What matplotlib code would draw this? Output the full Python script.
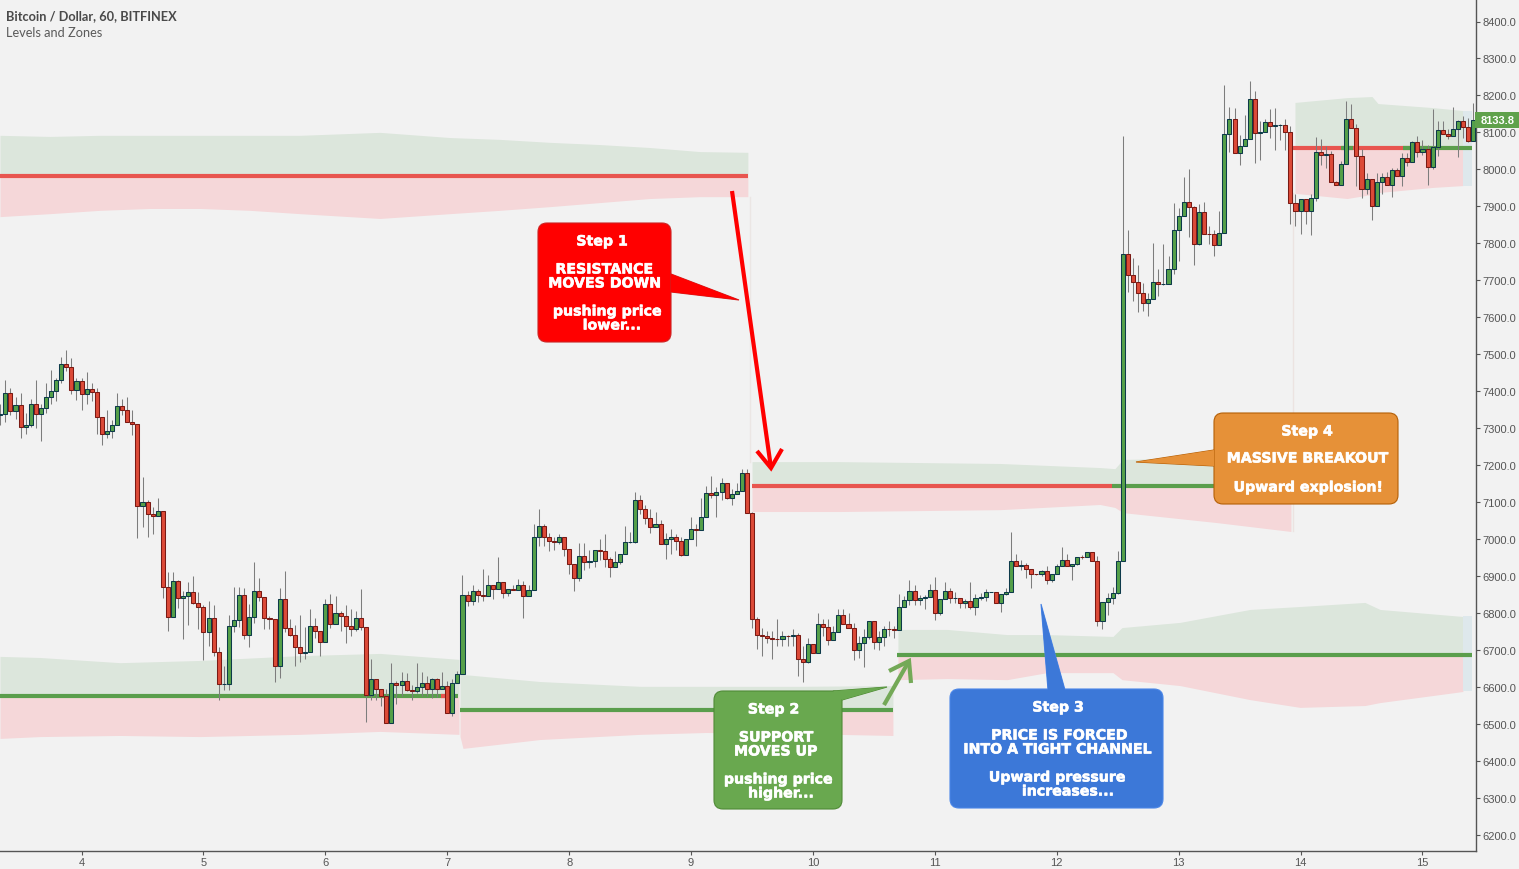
import numpy as np
import matplotlib
matplotlib.use('Agg')
import matplotlib.pyplot as plt
import matplotlib.patheffects as pe
import matplotlib.transforms as mtransforms
from matplotlib.patches import FancyBboxPatch, Polygon, Rectangle

# Hourly candles
# --------------
first_open = 7335
closes = [7339, 7395, 7347, 7363, 7303, 7308, 7365, 7339, 7355, 7384, 7401, 7430, 7474, 7466, 7403, 7428, 7392, 7406, 7398, 7330,
          7284, 7292, 7309, 7360, 7349, 7317, 7311, 7089, 7100, 7068, 7062, 7076, 6870, 6789, 6886, 6840, 6846, 6857, 6827, 6816,
          6748, 6786, 6694, 6608, 6608, 6765, 6781, 6849, 6740, 6789, 6859, 6843, 6786, 6784, 6656, 6838, 6759, 6740, 6708, 6692,
          6694, 6765, 6751, 6721, 6824, 6770, 6800, 6792, 6765, 6757, 6786, 6762, 6577, 6621, 6594, 6575, 6502, 6610, 6605, 6616,
          6592, 6589, 6600, 6610, 6594, 6621, 6594, 6601, 6529, 6610, 6635, 6849, 6832, 6859, 6848, 6846, 6874, 6865, 6884, 6854,
          6865, 6862, 6876, 6846, 6862, 7005, 7035, 7005, 6994, 6992, 7005, 6973, 6932, 6894, 6953, 6938, 6941, 6969, 6968, 6946,
          6924, 6938, 6959, 6991, 6991, 7106, 7081, 7057, 7033, 7041, 6987, 7000, 7005, 6995, 6957, 7000, 7027, 7025, 7060, 7124,
          7119, 7127, 7152, 7111, 7122, 7130, 7179, 7070, 6784, 6740, 6738, 6731, 6729, 6728, 6737, 6736, 6740, 6675, 6666, 6716,
          6691, 6770, 6762, 6727, 6748, 6794, 6770, 6759, 6700, 6719, 6735, 6778, 6721, 6735, 6757, 6756, 6754, 6816, 6835, 6859,
          6835, 6839, 6842, 6862, 6800, 6838, 6859, 6840, 6840, 6827, 6832, 6816, 6840, 6842, 6857, 6857, 6827, 6851, 6857, 6941,
          6927, 6929, 6919, 6905, 6904, 6914, 6889, 6905, 6927, 6943, 6927, 6932, 6951, 6950, 6965, 6941, 6778, 6830, 6840, 6854,
          6941, 7770, 7714, 7696, 7666, 7639, 7650, 7696, 7690, 7690, 7731, 7836, 7874, 7912, 7899, 7798, 7885, 7825, 7824, 7796,
          7828, 8096, 8137, 8045, 8064, 8083, 8191, 8099, 8100, 8129, 8118, 8119, 8119, 8101, 7909, 7888, 7920, 7888, 7923, 8047,
          8039, 8041, 7966, 7958, 8015, 8137, 8112, 8036, 7947, 7974, 7901, 7966, 7980, 7958, 7999, 7982, 8031, 8020, 8074, 8047,
          8055, 8007, 8061, 8107, 8096, 8091, 8110, 8131, 8115, 8077, 8134]
highs = [7366, 7429, 7407, 7384, 7395, 7341, 7379, 7431, 7365, 7422, 7458, 7436, 7493, 7512, 7490, 7436, 7436, 7452, 7422, 7409,
         7327, 7348, 7323, 7395, 7379, 7384, 7350, 7311, 7168, 7104, 7086, 7111, 7073, 6911, 6911, 6889, 6860, 6884, 6900, 6857,
         6822, 6832, 6822, 6708, 6655, 6794, 6870, 6870, 6868, 6824, 6938, 6895, 6843, 6792, 6784, 6868, 6914, 6782, 6766, 6793,
         6762, 6811, 6786, 6751, 6838, 6851, 6846, 6804, 6822, 6809, 6806, 6865, 6762, 6674, 6621, 6594, 6594, 6663, 6616, 6641,
         6637, 6605, 6663, 6641, 6630, 6624, 6624, 6641, 6616, 6621, 6642, 6901, 6859, 6874, 6865, 6919, 6903, 6876, 6951, 6884,
         6865, 6876, 6892, 6885, 6874, 7039, 7081, 7041, 7016, 7005, 7014, 7005, 6973, 6932, 6989, 6989, 6971, 6969, 7000, 7012,
         6951, 6967, 6959, 7036, 7018, 7127, 7120, 7093, 7081, 7074, 7052, 7016, 7027, 7014, 7005, 7000, 7060, 7039, 7111, 7144,
         7171, 7141, 7165, 7152, 7135, 7152, 7188, 7190, 7073, 6789, 6759, 6750, 6750, 6782, 6750, 6741, 6755, 6746, 6710, 6732,
         6716, 6800, 6782, 6782, 6764, 6811, 6811, 6800, 6773, 6737, 6755, 6778, 6778, 6750, 6764, 6778, 6764, 6851, 6845, 6890,
         6874, 6849, 6849, 6877, 6897, 6838, 6884, 6867, 6857, 6840, 6836, 6884, 6851, 6854, 6863, 6857, 6857, 6851, 6867, 7019,
         6960, 6944, 6935, 6919, 6905, 6915, 6926, 6905, 6933, 6977, 6960, 6932, 6951, 6955, 6965, 6965, 6953, 6830, 6854, 6870,
         6967, 8090, 7837, 7759, 7742, 7693, 7666, 7801, 7731, 7797, 7765, 7909, 7896, 7980, 8002, 7902, 7905, 7912, 7846, 7837,
         7887, 8227, 8168, 8165, 8094, 8148, 8240, 8211, 8130, 8135, 8162, 8165, 8123, 8135, 8117, 7934, 7920, 7920, 7932, 8088,
         8083, 8063, 8050, 7969, 8022, 8186, 8178, 8123, 8054, 7990, 7974, 7990, 7990, 7992, 8004, 8004, 8045, 8045, 8076, 8090,
         8079, 8067, 8162, 8130, 8132, 8110, 8169, 8133, 8144, 8139, 8180]
lows = [7308, 7316, 7334, 7325, 7273, 7285, 7303, 7300, 7264, 7341, 7364, 7373, 7422, 7454, 7391, 7377, 7348, 7365, 7373, 7285,
        7255, 7272, 7272, 7307, 7334, 7316, 7282, 7001, 7032, 7005, 7012, 7061, 6841, 6752, 6789, 6812, 6728, 6766, 6825, 6757,
        6671, 6711, 6683, 6565, 6591, 6591, 6748, 6762, 6728, 6707, 6773, 6831, 6755, 6757, 6612, 6623, 6748, 6737, 6657, 6668,
        6674, 6694, 6732, 6683, 6721, 6759, 6770, 6752, 6718, 6737, 6750, 6753, 6504, 6564, 6565, 6547, 6502, 6502, 6552, 6574,
        6588, 6564, 6583, 6574, 6576, 6570, 6573, 6600, 6529, 6522, 6610, 6635, 6818, 6820, 6829, 6831, 6846, 6836, 6867, 6839,
        6845, 6862, 6862, 6785, 6846, 6862, 6982, 6980, 6967, 6971, 6985, 6953, 6906, 6858, 6885, 6915, 6922, 6924, 6944, 6924,
        6896, 6924, 6931, 6959, 6989, 6989, 7066, 7039, 7016, 7033, 6985, 6946, 6960, 6971, 6953, 6957, 7000, 6982, 7025, 7060,
        7111, 7059, 7106, 7108, 7093, 7122, 7130, 7070, 6759, 6702, 6683, 6719, 6675, 6710, 6710, 6710, 6710, 6630, 6612, 6664,
        6690, 6691, 6737, 6714, 6727, 6748, 6770, 6759, 6672, 6678, 6653, 6729, 6701, 6699, 6710, 6737, 6732, 6757, 6816, 6822,
        6822, 6822, 6809, 6843, 6780, 6793, 6838, 6827, 6827, 6812, 6813, 6809, 6795, 6834, 6833, 6855, 6827, 6802, 6849, 6857,
        6927, 6917, 6895, 6866, 6902, 6899, 6879, 6883, 6905, 6927, 6927, 6890, 6928, 6946, 6951, 6941, 6764, 6755, 6793, 6825,
        6851, 6941, 7668, 7643, 7613, 7616, 7603, 7650, 7657, 7688, 7690, 7717, 7751, 7874, 7816, 7741, 7796, 7825, 7797, 7765,
        7796, 7828, 8046, 8045, 8013, 8064, 8085, 8016, 8024, 8101, 8085, 8051, 8079, 8051, 7851, 7846, 7824, 7853, 7822, 7914,
        8013, 8003, 7966, 7958, 7961, 8015, 8112, 7954, 7923, 7932, 7862, 7901, 7932, 7958, 7925, 7981, 7954, 8010, 8020, 8033,
        8040, 7957, 8000, 8037, 8096, 8083, 8091, 8033, 8085, 8074, 8081]
last_price = 8133.8

# Level zones: x in days, band edges and level in price
# -----------------------------------------------------
zone_a_x = [3.331, 3.741, 4.151, 4.561, 4.971, 5.381, 5.792, 6.448, 7.022, 7.432, 7.842, 8.252, 8.662, 9.073, 9.466]
zone_a_top = [8092, 8089, 8092, 8092, 8092, 8092, 8092, 8100, 8086, 8081, 8073, 8067, 8059, 8048, 8046]
zone_a_bot = [7872, 7880, 7889, 7894, 7894, 7889, 7880, 7867, 7880, 7889, 7899, 7910, 7921, 7926, 7926]
zone_a_level = 7983

zone_b_x = [3.331, 3.659, 4.315, 4.971, 5.792, 6.448, 7.096]
zone_b_top = [6682, 6679, 6665, 6671, 6684, 6690, 6674]
zone_b_bot = [6460, 6465, 6468, 6465, 6471, 6479, 6471]
zone_b_level = 6574

zone_c_x = [7.105, 7.129, 7.760, 8.581, 9.122, 9.893, 10.656]
zone_c_top = [6636, 6633, 6614, 6601, 6601, 6601, 6603]
zone_c_bot = [6465, 6433, 6457, 6471, 6476, 6473, 6468]
zone_c_level = 6536

zone_d_x = [10.697, 11.099, 11.592, 11.920, 12.461, 12.535, 13.011, 13.585, 13.995, 14.528, 14.652, 15.332]
zone_d_top = [6755, 6755, 6741, 6741, 6736, 6760, 6774, 6809, 6817, 6828, 6809, 6790]
zone_d_bot = [6619, 6622, 6619, 6638, 6638, 6619, 6603, 6565, 6544, 6549, 6557, 6587]
zone_d_level = 6687

zone_e_x = [9.500, 10.221, 11.534, 12.354, 12.477, 12.543, 13.314, 13.921]
zone_e_top = [7209, 7209, 7204, 7193, 7190, 7215, 7220, 7226]
zone_e_bot = [7074, 7074, 7079, 7093, 7085, 7071, 7044, 7020]
zone_e_level = 7144

zone_f_x = [13.954, 14.381, 14.586, 14.635, 15.086, 15.332]
zone_f_top = [8181, 8194, 8197, 8178, 8167, 8159]
zone_f_bot = [7935, 7921, 7932, 7937, 7951, 7956]
zone_f_level = 8059

zones = [(zone_a_x, zone_a_top, zone_a_bot, zone_a_level),
         (zone_b_x, zone_b_top, zone_b_bot, zone_b_level),
         (zone_c_x, zone_c_top, zone_c_bot, zone_c_level),
         (zone_d_x, zone_d_top, zone_d_bot, zone_d_level),
         (zone_e_x, zone_e_top, zone_e_bot, zone_e_level),
         (zone_f_x, zone_f_top, zone_f_bot, zone_f_level)]

# start day, end day, level, role of the line
level_lines = [(3.331, 9.47, zone_a_level, 'res'),
               (3.331, 7.09, zone_b_level, 'sup'),
               (6.95, 7.00, zone_b_level, 'res'),
               (7.105, 10.66, zone_c_level, 'sup'),
               (10.69, 15.41, zone_d_level, 'sup'),
               (9.50, 12.45, zone_e_level, 'res'),
               (12.45, 13.92, zone_e_level, 'sup'),
               (13.93, 15.04, zone_f_level, 'res'),
               (14.33, 14.43, zone_f_level, 'sup'),
               (14.84, 15.04, zone_f_level, 'sup'),
               (15.04, 15.41, zone_f_level, 'sup')]

price_ticks = np.arange(6200, 8401, 100)
day_ticks = list(range(4, 16))

BG = '#f2f2f2'
W, H = 1519, 870
AX_R, AX_B = 1475.5, 851.5

plt.rcParams['font.family'] = ['Liberation Sans', 'DejaVu Sans']

fig = plt.figure(figsize=(W / 100, H / 100), dpi=100, facecolor=BG)
ax = fig.add_axes([0, 1 - AX_B / H, AX_R / W, AX_B / H], facecolor=BG)
ax.set_xlim(3.331, 15.435)
ax.set_ylim(8400 - (AX_B - 22.5) * 2.706, 8400 + 22.5 * 2.706)

# Zones
for zx, ztop, zbot, zlevel in zones:
    ax.fill_between(zx, zlevel, ztop, color='#dce6dc', lw=0, zorder=1)
    ax.fill_between(zx, zbot, zlevel, color='#f5d7d9', lw=0, zorder=1)
for ztop, zbot in [(zone_f_top[-1], zone_f_bot[-1]), (zone_d_top[-1], zone_d_bot[-1])]:
    ax.fill_between([15.332, 15.41], zbot, ztop, color='#dee8ec', lw=0, zorder=1)

# pale connecting lines between the zones
ax.plot([9.486, 9.486], [zone_a_bot[-1], zone_e_top[0]], color='#ebe6e4', lw=1, zorder=1)
ax.plot([13.94, 13.94], [zone_e_bot[-1], zone_f_bot[0]], color='#ece3e1', lw=1, zorder=1)

line_colors = {'res': '#e8554f', 'sup': '#5a9e4c'}
for x0, x1, level, role in level_lines:
    ax.plot([x0, x1], [level, level], color=line_colors[role], lw=3,
            solid_capstyle='butt', zorder=2)

# Candles
closes = np.array(closes, dtype=float)
highs = np.array(highs, dtype=float)
lows = np.array(lows, dtype=float)
opens = np.r_[first_open, closes[:-1]]
x = 3 + (8 + np.arange(len(closes))) / 24
up = closes >= opens
ax.vlines(x, lows, highs, color='#7d7d7d', lw=0.75, zorder=3)
ax.bar(x[up], (closes - opens)[up], bottom=opens[up], width=0.8 / 24,
       color='#55a049', edgecolor='#0d3a4a', linewidth=0.75, zorder=4)
ax.bar(x[~up], (opens - closes)[~up], bottom=closes[~up], width=0.8 / 24,
       color='#dc4a38', edgecolor='#7a1a14', linewidth=0.75, zorder=4)

# Axes
for side in ['top', 'left']:
    ax.spines[side].set_visible(False)
for side in ['right', 'bottom']:
    ax.spines[side].set_color('#555555')
    ax.spines[side].set_linewidth(1)
ax.yaxis.tick_right()
ax.set_yticks(price_ticks)
ax.set_yticklabels([f'{p:.1f}' for p in price_ticks])
ax.set_xticks(day_ticks)
ax.set_xticklabels([str(d) for d in day_ticks])
ax.tick_params(axis='y', length=3, width=0.8, color='#555555', labelcolor='#555555',
               labelsize=8, pad=2)
ax.tick_params(axis='x', length=3, width=0.8, color='#555555', labelcolor='#555555',
               labelsize=8, pad=1.5)

# Annotations are placed in picture pixels
px = mtransforms.Affine2D().scale(1 / W, -1 / H).translate(0, 1) + fig.transFigure


def callout(x0, y0, x1, y1, tail, face, edge):
    fig.add_artist(Polygon(tail, closed=True, transform=px, facecolor=face,
                           edgecolor=edge, lw=0.8, zorder=6))
    box = FancyBboxPatch((x0 + 9, y0 + 9), x1 - x0 - 18, y1 - y0 - 18,
                         boxstyle='round,pad=9,rounding_size=9', transform=px,
                         facecolor=face, edgecolor=edge, lw=0.8, zorder=6)
    fig.add_artist(box)
    # hide the tail edge where it joins the box
    fig.add_artist(Polygon(tail, closed=True, transform=px, facecolor=face,
                           edgecolor='none', zorder=6.5))


def label(lines):
    for cx, cy, s in lines:
        fig.text(cx, cy + 1.5, s, transform=px, ha='center', va='center', color='white',
                 fontsize=10.2, fontweight='bold', family='DejaVu Sans', zorder=8,
                 path_effects=[pe.withStroke(linewidth=0.4, foreground='white')])


def arrow(x0, y0, x1, y1, barb0, barb1, color):
    fig.add_artist(plt.Line2D([x0, x1], [y0, y1], transform=px, color=color, lw=3,
                              solid_capstyle='butt', zorder=7))
    fig.add_artist(plt.Line2D([barb0[0], x1, barb1[0]], [barb0[1], y1, barb1[1]], transform=px,
                              color=color, lw=3, solid_capstyle='butt',
                              solid_joinstyle='miter', zorder=7))


arrow(732, 192, 771, 469, (757, 452), (782, 450), '#ff0000')
arrow(884, 706, 909, 662, (889, 672), (911, 684), '#74a957')

callout(538, 224, 671, 343, [(671, 275), (739, 301), (671, 293)], '#ff0000', '#cc2222')
label([(602, 241, 'Step 1'), (604, 269, 'RESISTANCE'), (604.5, 283, 'MOVES DOWN'),
       (607, 311, 'pushing price'), (612, 325, 'lower...')])

callout(714, 692, 842, 810, [(833, 692), (887, 688), (842, 701)], '#69a84f', '#4f8a36')
label([(773.5, 709, 'Step 2'), (776, 737, 'SUPPORT'), (775.5, 751, 'MOVES UP'),
       (778, 779, 'pushing price'), (781, 793, 'higher...')])

callout(950, 690, 1163, 809, [(1048, 691), (1041, 605), (1065, 691)], '#3c78d8', '#4a86e8')
label([(1058, 707, 'Step 3'), (1059, 735, 'PRICE IS FORCED'), (1057, 749, 'INTO A TIGHT CHANNEL'),
       (1057, 777, 'Upward pressure'), (1068, 791, 'increases...')])

callout(1214, 414, 1398, 505, [(1214, 451), (1136, 463), (1214, 467)], '#e69138', '#b45f06')
label([(1307, 431, 'Step 4'), (1307, 458, 'MASSIVE BREAKOUT'), (1308, 487, 'Upward explosion!')])

# Header and last price tag
fig.text(6, 16, 'Bitcoin / Dollar, 60, BITFINEX', transform=px, va='center', color='#4a4a4a',
         fontsize=9.2, fontweight='bold', family='Lato')
fig.text(6, 33, 'Levels and Zones', transform=px, va='center', color='#5a5a5a',
         fontsize=9.2, family='Lato')
fig.add_artist(Rectangle((1475, 113), 44, 16, transform=px, facecolor='#5fa14b',
                         edgecolor='none', zorder=6))
fig.text(1498, 121, f'{last_price:.1f}', transform=px, ha='center', va='center', color='white',
         fontsize=8, fontweight='bold', zorder=8)

fig.savefig('out.png', dpi=100, facecolor=BG)
